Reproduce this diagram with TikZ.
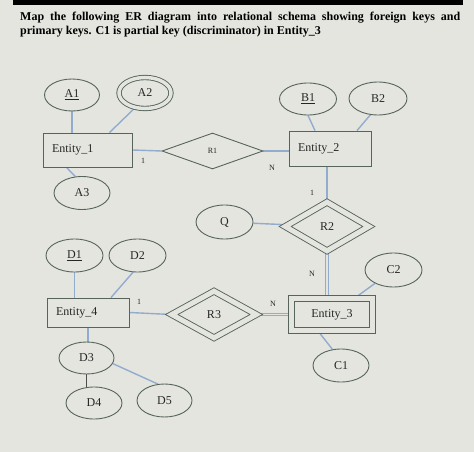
\documentclass[tikz,border=0pt]{standalone}
\usepackage{fontspec}
\setmainfont{Liberation Serif}
\usetikzlibrary{shapes,backgrounds,calc}
\definecolor{paper}{RGB}{229,229,224}
\definecolor{shapeline}{RGB}{86,100,92}
\definecolor{linkblue}{RGB}{146,172,206}

\begin{document}
\begin{tikzpicture}[
    x=1pt, y=-1pt,
    font=\fontsize{12}{14}\selectfont,
    text=black!85,
    attr/.style={
        ellipse, draw=shapeline, line width=0.9pt, inner sep=0pt,
        minimum width=56pt, minimum height=33pt
    },
    multiattr/.style={attr, double=paper, double distance=3.5pt},
    entity/.style={
        rectangle, draw=shapeline, line width=0.9pt,
        align=left, inner xsep=9pt, inner ysep=0pt
    },
    weakentity/.style={
        rectangle, draw=shapeline, line width=0.9pt,
        double=paper, double distance=5pt,
        minimum width=81pt, minimum height=32pt
    },
    rel/.style={diamond, draw=shapeline, line width=0.9pt, inner sep=0pt},
    weakrel/.style={rel, double=paper, double distance=5pt},
    link/.style={draw=linkblue, line width=1.4pt},
    dlink/.style={link, line width=1.1pt, double=paper, double distance=1.6pt},
    darklink/.style={draw=black!70, line width=1pt},
    card/.style={font=\fontsize{8}{9}\selectfont},
]
  \useasboundingbox (0,0) rectangle (474,452);
  \begin{scope}[on background layer]
    \fill[paper] (0,0) rectangle (474,452);
  \end{scope}
  \fill[black] (13,0) rectangle (463,5);

  %––– Task text ––––––––––––––––––––––––––––––––––––––––––––
  \node (task) [anchor=north west, text width=440pt, align=justify, inner sep=0pt,
                text=black, font=\fontsize{12}{14}\selectfont\bfseries] at (20,12)
      {Map the following ER diagram into relational schema showing foreign keys and\linebreak
       primary keys. C1 is partial key (discriminator) in Entity\_3};

  %––– Entities –––––––––––––––––––––––––––––––––––––––––––––
  \node (e1) [entity, text width=71pt, minimum height=34pt] at (87.5,150) {Entity\_1};
  \node (e2) [entity, text width=64pt, minimum height=35pt] at (330,148.5) {Entity\_2};
  \node (e4) [entity, text width=64pt, minimum height=29pt] at (88,312.5) {Entity\_4};
  \node (e3) [weakentity] at (332,314.5) {Entity\_3};

  %––– Relationships ––––––––––––––––––––––––––––––––––––––––
  \node (r1) [rel, minimum width=101pt, minimum height=36pt,
              font=\fontsize{8}{9}\selectfont] at (212.5,151) {R1};
  \node (r2) [weakrel, minimum width=84pt, minimum height=49pt] at (327,226.5) {R2};
  \node (r3) [weakrel, minimum width=85pt, minimum height=47pt] at (214,314.5) {R3};

  %––– Attributes –––––––––––––––––––––––––––––––––––––––––––
  \node (a1) [attr, minimum width=55pt, minimum height=32pt] at (72,95) {\underline{A1}};
  \node (a2) [multiattr, minimum width=52pt, minimum height=31pt] at (145,93) {A2};
  \node (a3) [attr] at (82,193) {A3};
  \node (b1) [attr, minimum width=57pt, minimum height=32pt] at (308,99) {\underline{B1}};
  \node (b2) [attr, minimum width=58pt] at (378,98.5) {B2};
  \node (q)  [attr, minimum width=57pt, minimum height=34pt] at (224.5,222) {Q};
  \node (c2) [attr, minimum width=57pt, minimum height=34pt] at (393.5,270) {C2};
  \node (c1) [attr] at (341,365.5) {C1};
  \node (d1) [attr, minimum width=57pt] at (74.5,255.5) {\underline{D1}};
  \node (d2) [attr, minimum width=57pt] at (137.5,255.5) {D2};
  \node (d3) [attr, minimum width=55pt, minimum height=32pt] at (86.5,358) {D3};
  \node (d4) [attr, minimum height=32pt] at (94,403) {D4};
  \node (d5) [attr, minimum width=55pt] at (164.5,400.5) {D5};

  %––– Cardinalities ––––––––––––––––––––––––––––––––––––––––
  \node (k1) [card] at (143,161) {1};
  \node (k2) [card] at (272,168) {N};
  \node (k3) [card] at (312,193) {1};
  \node (k4) [card] at (312,274) {N};
  \node (k5) [card] at (273,304) {N};
  \node (k6) [card] at (139,302) {1};

  %––– Connectors –––––––––––––––––––––––––––––––––––––––––––
  \begin{scope}[on background layer]
    \draw[link] (a1.south) -- (a1.south |- e1.north);
    \draw[link] (a2.236) -- ([xshift=22pt]e1.north);
    \draw[link] (a3.112) -- ([xshift=-21pt]e1.south);
    \draw[link] (e1.east) -- (r1.west);
    \draw[link] (r1.east) -- (r1.east -| e2.west);
    \draw[link] (b1.south) -- ([xshift=-15pt]e2.north);
    \draw[link] (b2.245) -- ([xshift=27pt]e2.north);
    \draw[link] (r2.north |- e2.south) -- (r2.north);
    \draw[link] (q) -- (r2);
    \draw[dlink] (r2.south) -- (r2.south |- e3.north);
    \draw[link] (c2) -- (e3);
    \draw[link] (c1.118) -- ([xshift=-14pt]e3.south);
    \draw[link] (d1.south) -- (d1.south |- e4.north);
    \draw[link] (d2.255) -- ([xshift=23pt]e4.north);
    \draw[link] (e4.east) -- (r3.west);
    \draw[dlink] (r3.east) -- (e3.west);
    \draw[link] (e4.south) -- (e4.south |- d3.north);
    \draw[darklink] (d3.south) -- (d3.south |- d4.north);
    \draw[link] (d3.-12) -- (d5.112);
  \end{scope}
\end{tikzpicture}
\end{document}
